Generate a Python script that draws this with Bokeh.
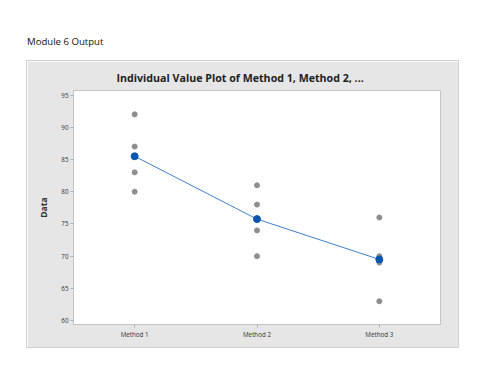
from bokeh.plotting import figure
from bokeh.models import Div, FixedTicker, Title
from bokeh.layouts import column
from bokeh.embed import file_html
from bokeh.resources import INLINE

methods = ["Method 1", "Method 2", "Method 3"]
method1 = [92, 87, 83, 80]
method2 = [81, 78, 74, 70]
method3 = [76, 70, 69, 63]
y_ticks = [60, 65, 70, 75, 80, 85, 90, 95]

groups = [method1, method2, method3]
xs, ys = [], []
for i, g in enumerate(groups):
    for v in g:
        xs.append(i + 1)
        ys.append(v)
mx = [i + 1 for i in range(len(groups))]
my = [sum(g) / len(g) for g in groups]

p = figure(width=433, height=288, output_backend="svg", toolbar_location=None,
           x_range=(0.5, 3.5), y_range=(59.4, 95.7),
           min_border_left=46, min_border_right=20, min_border_top=29, min_border_bottom=25,
           margin=(0, 0, 0, 26))
p.border_fill_color = "#e6e6e6"
p.background_fill_color = "white"
p.outline_line_color = "#c4c4c4"
p.outline_line_width = 1
p.styles = {"border": "1px solid #d2d2d2", "box-sizing": "border-box"}

t = Title(text="Individual Value Plot of Method 1, Method 2, ...", align="left",
          text_font="Open Sans", text_font_size="8pt", text_font_style="bold",
          text_color="#222222", offset=43, standoff=11)
p.add_layout(t, "above")

p.xgrid.visible = False
p.ygrid.visible = False

p.xaxis.ticker = FixedTicker(ticks=mx)
p.xaxis.major_label_overrides = {i + 1: m for i, m in enumerate(methods)}
p.yaxis.ticker = FixedTicker(ticks=y_ticks)
p.yaxis.axis_label = "Data"

for ax in (p.xaxis, p.yaxis):
    ax.axis_line_color = None
    ax.major_tick_line_color = "#b0b0b0"
    ax.major_tick_out = 3
    ax.major_tick_in = 0
    ax.minor_tick_line_color = None
    ax.major_label_text_font = "Open Sans"
    ax.major_label_text_font_size = "4.7pt"
    ax.major_label_text_color = "#333333"
    ax.major_label_standoff = 2
    ax.axis_label_text_font = "Open Sans"
    ax.axis_label_text_font_size = "6.5pt"
    ax.axis_label_text_font_style = "bold"
    ax.axis_label_text_color = "#333333"
p.yaxis.axis_label_standoff = 8

p.scatter(xs, ys, size=5, color="#8e8e8e")
p.line(mx, my, line_color="#3f7fcc", line_width=1)
p.scatter(mx, my, size=7, color="#0a55ad")

d = Div(text="Module 6 Output", width=300, height=52, margin=(8, 0, 0, 27),
        styles={"font-family": "Open Sans", "font-size": "7.2pt", "color": "#111111",
                "padding-top": "28px", "line-height": "12px"})

layout = column(d, p, spacing=0)
open("out.html", "w").write(file_html(layout, INLINE))
